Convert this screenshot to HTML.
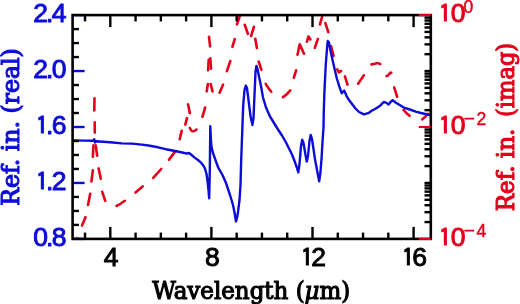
<!DOCTYPE html>
<html><head><meta charset="utf-8"><style>
html,body{margin:0;padding:0;background:#fff;}
svg{display:block;}
</style></head><body>
<svg width="520" height="304" viewBox="0 0 520 304">
<rect width="520" height="304" fill="#fff"/>
<defs><clipPath id="c"><rect x="72.6" y="15.1" width="358.2" height="223.8"/></clipPath></defs>
<g clip-path="url(#c)" fill="none" stroke-linejoin="round">
<g stroke="#e2001a" stroke-width="2.6" stroke-linecap="round">
<polyline points="75.8,242.3 77.3,238.3"/>
<polyline points="82.0,225.5 85.5,217.2"/>
<polyline points="88.0,205.0 90.2,193.8"/>
<polyline points="91.4,181.5 92.9,170.2"/>
<polyline points="92.8,156.8 93.5,145.4"/>
<polyline points="95.7,145.4 97.2,155.8"/>
<polyline points="94.8,132.6 94.7,122.4"/>
<polyline points="94.3,110.5 94.5,98.2"/>
<polyline points="98.6,168.4 100.8,178.8"/>
<polyline points="102.2,191.8 105.2,200.8"/>
<polyline points="116.5,205.8 120.5,203.8 124.8,200.8"/>
<polyline points="135.5,192.6 142.7,186.5"/>
<polyline points="153.2,177.9 161.2,169.0"/>
<polyline points="169.0,159.6 175.1,151.6"/>
<polyline points="179.7,139.2 181.7,130.8"/>
<polyline points="185.3,124.6 187.0,118.2"/>
<polyline points="188.0,104.4 188.6,107.0 189.8,113.2"/>
<polyline points="189.9,128.0 191.0,130.3 192.4,131.3 194.5,131.0 196.6,129.5"/>
<polyline points="202.4,116.8 205.1,107.6"/>
<polyline points="206.7,91.4 207.9,84.0"/>
<polyline points="208.1,70.2 208.7,59.8"/>
<polyline points="210.3,58.3 211.0,68.7"/>
<polyline points="209.0,36.8 210.1,46.4"/>
<polyline points="210.7,84.0 212.5,91.4"/>
<polyline points="219.6,92.7 223.1,84.6"/>
<polyline points="226.9,71.2 230.3,61.1"/>
<polyline points="232.4,46.8 234.7,39.1"/>
<polyline points="236.9,24.4 239.6,16.8"/>
<polyline points="244.7,24.8 247.9,33.8"/>
<polyline points="251.1,36.0 253.9,26.8"/>
<polyline points="255.3,38.7 256.9,48.0"/>
<polyline points="258.7,61.5 261.4,69.8"/>
<polyline points="265.7,83.9 268.5,88.2 271.3,91.8"/>
<polyline points="283.0,97.1 286.5,94.5 290.3,90.4"/>
<polyline points="293.8,77.8 296.1,70.3"/>
<polyline points="297.5,54.8 299.7,44.2 304.0,53.8"/>
<polyline points="306.9,41.7 308.5,36.5 310.4,39.5"/>
<polyline points="314.8,47.9 317.8,39.0"/>
<polyline points="320.0,24.4 322.1,16.9"/>
<polyline points="325.4,23.1 328.3,32.2"/>
<polyline points="331.0,46.1 333.6,55.8"/>
<polyline points="337.2,69.3 338.8,72.3 341.1,71.0"/>
<polyline points="344.9,76.4 347.5,84.6"/>
<polyline points="358.1,83.7 361.0,79.5 363.9,75.3"/>
<polyline points="371.5,64.4 374.6,63.8 377.8,63.1 380.3,64.0"/>
<polyline points="386.6,76.0 388.1,75.5 390.4,72.5 391.3,72.9"/>
<polyline points="394.2,87.4 397.1,96.7"/>
<polyline points="403.5,109.9 406.5,113.2 409.6,115.8"/>
<polyline points="422.3,119.3 425.0,117.0 427.9,113.8"/>
</g>
<polyline points="72.6,140.4 85.0,140.6 93.0,140.8 94.2,139.3 95.0,142.5 96.0,141.2 110.0,142.2 122.0,143.4 132.0,143.6 142.0,144.6 150.0,145.8 158.0,147.3 165.8,149.2 176.3,151.3 186.8,153.5 189.0,153.0 191.0,154.5 194.7,157.6 198.0,160.0 201.3,162.9 203.5,165.8 205.3,169.5 206.5,174.0 207.4,180.0 208.3,188.0 209.2,198.4 209.8,170.0 210.3,126.2 210.8,138.0 211.5,147.0 213.0,153.0 214.0,155.8 216.0,161.5 218.1,167.3 222.5,175.0 226.0,183.0 230.0,195.0 233.0,205.0 234.5,212.5 236.0,221.5 237.0,218.0 238.0,212.0 239.5,200.0 240.5,185.0 241.2,160.0 242.0,138.0 243.2,105.4 244.5,90.0 245.8,85.6 247.0,88.0 248.5,100.0 250.5,116.0 252.4,125.1 253.5,118.0 254.5,95.0 255.5,72.0 256.4,65.9 257.5,69.0 259.0,76.4 261.0,86.0 263.0,97.5 266.0,107.5 270.0,116.5 274.0,123.0 278.0,129.5 282.0,135.5 286.0,142.5 289.0,148.5 292.0,154.5 294.9,162.0 296.8,167.5 298.3,172.4 299.5,164.0 301.0,146.0 302.2,139.8 303.5,143.0 305.5,155.0 306.8,161.5 308.0,156.0 309.5,141.0 310.7,134.9 312.0,139.0 313.5,149.0 314.7,157.6 317.0,170.0 319.2,181.3 320.5,172.0 321.6,157.6 322.6,140.0 323.5,128.0 323.8,110.0 324.5,90.0 325.8,64.0 327.3,45.0 327.8,41.0 328.8,42.0 331.0,53.0 334.8,70.0 337.0,79.0 339.3,86.4 341.8,93.3 343.0,91.8 344.2,90.6 345.3,93.0 346.7,96.3 349.0,100.0 352.4,104.5 355.5,108.5 359.0,112.0 364.0,114.4 368.9,112.8 372.0,110.5 375.5,108.7 380.4,105.4 383.7,102.0 386.0,102.6 388.6,104.5 390.5,102.0 392.7,100.2 396.0,102.7 403.8,107.6 409.8,109.5 415.7,111.6 421.0,113.0 427.5,114.5 432.0,115.5" stroke="#0c0cd8" stroke-width="2.4"/>
</g>
<g stroke-width="2.4" stroke-linecap="butt">
<line x1="85.03" y1="238.9" x2="85.03" y2="232.60" stroke="#000"/>
<line x1="85.03" y1="15.1" x2="85.03" y2="21.40" stroke="#000"/>
<line x1="110.30" y1="238.9" x2="110.30" y2="226.90" stroke="#000"/>
<line x1="110.30" y1="15.1" x2="110.30" y2="27.10" stroke="#000"/>
<line x1="135.57" y1="238.9" x2="135.57" y2="232.60" stroke="#000"/>
<line x1="135.57" y1="15.1" x2="135.57" y2="21.40" stroke="#000"/>
<line x1="160.85" y1="238.9" x2="160.85" y2="232.60" stroke="#000"/>
<line x1="160.85" y1="15.1" x2="160.85" y2="21.40" stroke="#000"/>
<line x1="186.12" y1="238.9" x2="186.12" y2="232.60" stroke="#000"/>
<line x1="186.12" y1="15.1" x2="186.12" y2="21.40" stroke="#000"/>
<line x1="211.40" y1="238.9" x2="211.40" y2="226.90" stroke="#000"/>
<line x1="211.40" y1="15.1" x2="211.40" y2="27.10" stroke="#000"/>
<line x1="236.68" y1="238.9" x2="236.68" y2="232.60" stroke="#000"/>
<line x1="236.68" y1="15.1" x2="236.68" y2="21.40" stroke="#000"/>
<line x1="261.95" y1="238.9" x2="261.95" y2="232.60" stroke="#000"/>
<line x1="261.95" y1="15.1" x2="261.95" y2="21.40" stroke="#000"/>
<line x1="287.22" y1="238.9" x2="287.22" y2="232.60" stroke="#000"/>
<line x1="287.22" y1="15.1" x2="287.22" y2="21.40" stroke="#000"/>
<line x1="312.50" y1="238.9" x2="312.50" y2="226.90" stroke="#000"/>
<line x1="312.50" y1="15.1" x2="312.50" y2="27.10" stroke="#000"/>
<line x1="337.77" y1="238.9" x2="337.77" y2="232.60" stroke="#000"/>
<line x1="337.77" y1="15.1" x2="337.77" y2="21.40" stroke="#000"/>
<line x1="363.05" y1="238.9" x2="363.05" y2="232.60" stroke="#000"/>
<line x1="363.05" y1="15.1" x2="363.05" y2="21.40" stroke="#000"/>
<line x1="388.32" y1="238.9" x2="388.32" y2="232.60" stroke="#000"/>
<line x1="388.32" y1="15.1" x2="388.32" y2="21.40" stroke="#000"/>
<line x1="413.60" y1="238.9" x2="413.60" y2="226.90" stroke="#000"/>
<line x1="413.60" y1="15.1" x2="413.60" y2="27.10" stroke="#000"/>
<line x1="72.6" y1="238.90" x2="84.6" y2="238.90" stroke="#0c0cd8"/>
<line x1="72.6" y1="224.91" x2="78.89999999999999" y2="224.91" stroke="#000"/>
<line x1="72.6" y1="210.93" x2="78.89999999999999" y2="210.93" stroke="#000"/>
<line x1="72.6" y1="196.94" x2="78.89999999999999" y2="196.94" stroke="#000"/>
<line x1="72.6" y1="182.95" x2="84.6" y2="182.95" stroke="#0c0cd8"/>
<line x1="72.6" y1="168.96" x2="78.89999999999999" y2="168.96" stroke="#000"/>
<line x1="72.6" y1="154.97" x2="78.89999999999999" y2="154.97" stroke="#000"/>
<line x1="72.6" y1="140.99" x2="78.89999999999999" y2="140.99" stroke="#000"/>
<line x1="72.6" y1="127.00" x2="84.6" y2="127.00" stroke="#0c0cd8"/>
<line x1="72.6" y1="113.01" x2="78.89999999999999" y2="113.01" stroke="#000"/>
<line x1="72.6" y1="99.03" x2="78.89999999999999" y2="99.03" stroke="#000"/>
<line x1="72.6" y1="85.04" x2="78.89999999999999" y2="85.04" stroke="#000"/>
<line x1="72.6" y1="71.05" x2="84.6" y2="71.05" stroke="#0c0cd8"/>
<line x1="72.6" y1="57.06" x2="78.89999999999999" y2="57.06" stroke="#000"/>
<line x1="72.6" y1="43.07" x2="78.89999999999999" y2="43.07" stroke="#000"/>
<line x1="72.6" y1="29.09" x2="78.89999999999999" y2="29.09" stroke="#000"/>
<line x1="72.6" y1="15.10" x2="84.6" y2="15.10" stroke="#0c0cd8"/>
<line x1="430.8" y1="222.06" x2="424.5" y2="222.06" stroke="#000"/>
<line x1="430.8" y1="212.21" x2="424.5" y2="212.21" stroke="#000"/>
<line x1="430.8" y1="205.21" x2="424.5" y2="205.21" stroke="#000"/>
<line x1="430.8" y1="199.79" x2="424.5" y2="199.79" stroke="#000"/>
<line x1="430.8" y1="195.36" x2="424.5" y2="195.36" stroke="#000"/>
<line x1="430.8" y1="191.62" x2="424.5" y2="191.62" stroke="#000"/>
<line x1="430.8" y1="188.37" x2="424.5" y2="188.37" stroke="#000"/>
<line x1="430.8" y1="185.51" x2="424.5" y2="185.51" stroke="#000"/>
<line x1="430.8" y1="182.95" x2="424.5" y2="182.95" stroke="#000"/>
<line x1="430.8" y1="166.11" x2="424.5" y2="166.11" stroke="#000"/>
<line x1="430.8" y1="156.26" x2="424.5" y2="156.26" stroke="#000"/>
<line x1="430.8" y1="149.26" x2="424.5" y2="149.26" stroke="#000"/>
<line x1="430.8" y1="143.84" x2="424.5" y2="143.84" stroke="#000"/>
<line x1="430.8" y1="139.41" x2="424.5" y2="139.41" stroke="#000"/>
<line x1="430.8" y1="135.67" x2="424.5" y2="135.67" stroke="#000"/>
<line x1="430.8" y1="132.42" x2="424.5" y2="132.42" stroke="#000"/>
<line x1="430.8" y1="129.56" x2="424.5" y2="129.56" stroke="#000"/>
<line x1="430.8" y1="110.16" x2="424.5" y2="110.16" stroke="#000"/>
<line x1="430.8" y1="100.31" x2="424.5" y2="100.31" stroke="#000"/>
<line x1="430.8" y1="93.31" x2="424.5" y2="93.31" stroke="#000"/>
<line x1="430.8" y1="87.89" x2="424.5" y2="87.89" stroke="#000"/>
<line x1="430.8" y1="83.46" x2="424.5" y2="83.46" stroke="#000"/>
<line x1="430.8" y1="79.72" x2="424.5" y2="79.72" stroke="#000"/>
<line x1="430.8" y1="76.47" x2="424.5" y2="76.47" stroke="#000"/>
<line x1="430.8" y1="73.61" x2="424.5" y2="73.61" stroke="#000"/>
<line x1="430.8" y1="71.05" x2="424.5" y2="71.05" stroke="#000"/>
<line x1="430.8" y1="54.21" x2="424.5" y2="54.21" stroke="#000"/>
<line x1="430.8" y1="44.36" x2="424.5" y2="44.36" stroke="#000"/>
<line x1="430.8" y1="37.36" x2="424.5" y2="37.36" stroke="#000"/>
<line x1="430.8" y1="31.94" x2="424.5" y2="31.94" stroke="#000"/>
<line x1="430.8" y1="27.51" x2="424.5" y2="27.51" stroke="#000"/>
<line x1="430.8" y1="23.77" x2="424.5" y2="23.77" stroke="#000"/>
<line x1="430.8" y1="20.52" x2="424.5" y2="20.52" stroke="#000"/>
<line x1="430.8" y1="17.66" x2="424.5" y2="17.66" stroke="#000"/>
</g>
<rect x="72.6" y="15.1" width="358.2" height="223.8" fill="none" stroke="#000" stroke-width="2.6"/>
<g stroke-width="2.1">
<line x1="431.1" y1="238.90" x2="418.8" y2="238.90" stroke="#e2001a"/>
<line x1="431.1" y1="127.00" x2="418.8" y2="127.00" stroke="#e2001a"/>
<line x1="431.1" y1="15.10" x2="418.8" y2="15.10" stroke="#e2001a"/>
</g>
<g font-family="'Liberation Sans', Arial, sans-serif" font-size="26.5" letter-spacing="-1.8" stroke-width="0.95" fill="#000" stroke="#000">
<text x="64.6" y="245.9" text-anchor="end" fill="#0c0cd8" stroke="#0c0cd8">0.8</text>
<text x="64.6" y="190.0" text-anchor="end" fill="#0c0cd8" stroke="#0c0cd8"><tspan font-family="IPAGothic, 'Liberation Sans', sans-serif" font-size="24" stroke-width="1.1">1</tspan>.2</text>
<text x="64.6" y="134.0" text-anchor="end" fill="#0c0cd8" stroke="#0c0cd8"><tspan font-family="IPAGothic, 'Liberation Sans', sans-serif" font-size="24" stroke-width="1.1">1</tspan>.6</text>
<text x="64.6" y="78.1" text-anchor="end" fill="#0c0cd8" stroke="#0c0cd8">2.0</text>
<text x="64.6" y="22.1" text-anchor="end" fill="#0c0cd8" stroke="#0c0cd8">2.4</text>
<text x="110.3" y="265.5" text-anchor="middle">4</text>
<text x="211.4" y="265.5" text-anchor="middle">8</text>
<text x="312.5" y="265.5" text-anchor="middle"><tspan font-family="IPAGothic, 'Liberation Sans', sans-serif" font-size="24" stroke-width="1.1">1</tspan>2</text>
<text x="413.6" y="265.5" text-anchor="middle"><tspan font-family="IPAGothic, 'Liberation Sans', sans-serif" font-size="24" stroke-width="1.1">1</tspan>6</text>
<text x="439" y="21.9" fill="#e2001a" stroke="#e2001a" letter-spacing="-0.3"><tspan font-family="IPAGothic, 'Liberation Sans', sans-serif" font-size="24" stroke-width="1.1">1</tspan>0</text>
<text x="463.4" y="12.8" fill="#e2001a" stroke="#e2001a" font-size="17.5" letter-spacing="0" stroke-width="0.45">0</text>
<text x="439" y="133.8" fill="#e2001a" stroke="#e2001a" letter-spacing="-0.3"><tspan font-family="IPAGothic, 'Liberation Sans', sans-serif" font-size="24" stroke-width="1.1">1</tspan>0</text>
<text x="463.7" y="125.4" fill="#e2001a" stroke="#e2001a" font-size="19" letter-spacing="0" stroke-width="0.45">−</text>
<text x="476.4" y="124.7" fill="#e2001a" stroke="#e2001a" font-size="17.5" letter-spacing="0" stroke-width="0.45">2</text>
<text x="439" y="245.7" fill="#e2001a" stroke="#e2001a" letter-spacing="-0.3"><tspan font-family="IPAGothic, 'Liberation Sans', sans-serif" font-size="24" stroke-width="1.1">1</tspan>0</text>
<text x="463.7" y="237.3" fill="#e2001a" stroke="#e2001a" font-size="19" letter-spacing="0" stroke-width="0.45">−</text>
<text x="476.4" y="236.6" fill="#e2001a" stroke="#e2001a" font-size="17.5" letter-spacing="0" stroke-width="0.45">4</text>
</g>
<g font-family="'DejaVu Serif Condensed', 'DejaVu Serif', 'Liberation Serif', serif" font-size="23.6" stroke-width="1.05" lengthAdjust="spacingAndGlyphs">
<text x="152.3" y="298.9" textLength="198" lengthAdjust="spacingAndGlyphs" fill="#000" stroke="#000">Wavelength (<tspan font-style="italic">μ</tspan>m)</text>
<text transform="translate(18.9,205.7) rotate(-90)" textLength="157.4" lengthAdjust="spacingAndGlyphs" fill="#0c0cd8" stroke="#0c0cd8">Ref. in. (real)</text>
<text transform="translate(514.4,211.2) rotate(-90)" textLength="82.5" lengthAdjust="spacingAndGlyphs" fill="#e2001a" stroke="#e2001a">Ref. in.</text>
<text transform="translate(514.4,117) rotate(-90)" textLength="74.2" lengthAdjust="spacingAndGlyphs" fill="#e2001a" stroke="#e2001a">(imag)</text>
</g>
</svg>
</body></html>
